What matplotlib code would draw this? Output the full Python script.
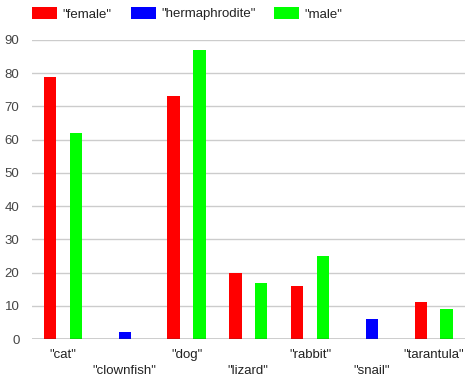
import matplotlib
matplotlib.use("Agg")
import matplotlib.pyplot as plt
from matplotlib.patches import Rectangle
import numpy as np

plt.rcParams['font.family'] = ['Liberation Sans', 'DejaVu Sans']

categories = ['"cat"', '"clownfish"', '"dog"', '"lizard"', '"rabbit"', '"snail"', '"tarantula"']
series_names = ['"female"', '"hermaphrodite"', '"male"']
female = [79, 0, 73, 20, 16, 0, 11]
hermaphrodite = [0, 2, 0, 0, 0, 6, 0]
male = [62, 0, 87, 17, 25, 0, 9]
colors = ['#ff0000', '#0000ff', '#00ff00']
yticks = [0, 10, 20, 30, 40, 50, 60, 70, 80, 90]

W, H = 474, 382
fig = plt.figure(figsize=(W/100, H/100), dpi=100)
ax = fig.add_axes([32/W, 43/H, (464.6-32)/W, 299/H])

x = np.arange(len(categories))
w = 0.2
off = 0.21
for vals, o, c, n in zip([female, hermaphrodite, male], [-off, 0, off], colors, series_names):
    v = np.array(vals, dtype=float)
    mask = v > 0
    ax.bar(x[mask] + o, v[mask], width=w, color=c, label=n, zorder=3)

ax.set_xlim(-0.5, len(categories) - 0.5)
ax.set_ylim(0, 90)
ax.set_yticks(yticks)
ax.set_yticklabels([str(t) for t in yticks], fontsize=9.5, color='#444444')
ax.yaxis.grid(True, color='#cccccc', linewidth=1, zorder=0)
ax.axhline(0, color='#333333', linewidth=1, zorder=4)
for s in ax.spines.values():
    s.set_visible(False)
ax.tick_params(axis='y', length=0, pad=9)
ax.set_xticks(x)
ax.set_xticklabels(categories, fontsize=9.5, color='#222222')
ax.tick_params(axis='x', length=0, pad=7)
for t in ax.xaxis.get_major_ticks()[1::2]:
    t.set_pad(19)

# legend drawn manually in pixel coordinates
leg_x = [32, 131, 274]
for lx, c, n in zip(leg_x, colors, series_names):
    fig.patches.append(Rectangle((lx/W, 1 - 19/H), 25/W, 12/H, transform=fig.transFigure,
                                 facecolor=c, edgecolor='none'))
    fig.text((lx + 30)/W, 1 - 13/H, n, fontsize=9.5, color='#222222',
             va='center_baseline', ha='left')

fig.savefig('out.png', dpi=100)
